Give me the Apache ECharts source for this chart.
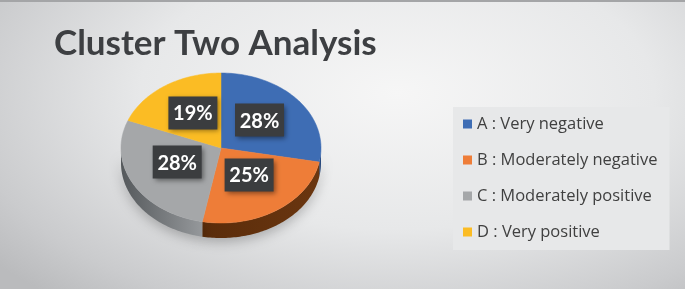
<!DOCTYPE html>
<html>
<head>
<meta charset="utf-8">
<script src="https://cdn.jsdelivr.net/npm/echarts@6/dist/echarts.min.js"></script>
<style>
html,body{margin:0;padding:0;}
#wrap{position:relative;width:685px;height:289px;overflow:hidden;
background:radial-gradient(ellipse 75% 95% at 58% 32%, #f6f6f6 0%, #e7e8e9 50%, #cacbcd 85%, #babbbd 100%);}
#topline{position:absolute;left:0;top:0;width:685px;height:2px;background:#a4a5a7;}
#main{position:absolute;left:0;top:0;width:685px;height:289px;}
</style>
</head>
<body>
<div id="wrap"><div id="topline"></div><div id="main"></div></div>
<script>
// ---- data ----
const titleText = 'Cluster Two Analysis';
const categories = ['A : Very negative', 'B : Moderately negative', 'C : Moderately positive', 'D : Very positive'];
const values = [28, 25, 28, 19];

// ---- styles ----
const topColors = ['#3e6db4', '#ee7d38', '#a5a7a9', '#fbbc24'];
const sideColors = [['#1f3b66', '#2c4f86'], ['#5a2c0a', '#6a3610'], ['#55595c', '#95989b'], ['#8a6500', '#a67c00']];

const total = values.reduce((s, v) => s + v, 0);
const starts = [];
let acc = 0;
values.forEach(v => { starts.push(acc); acc += v; });

function ang(pct) { return pct / total * Math.PI * 2; }
function pt(api, t, r, dy) {
  const p = api.coord([r * Math.sin(t), r * Math.cos(t)]);
  return [p[0], p[1] + (dy || 0)];
}
function arc(api, a, b, dy) {
  const pts = [];
  const n = Math.max(2, Math.ceil((b - a) / 0.02));
  for (let i = 0; i <= n; i++) pts.push(pt(api, a + (b - a) * i / n, 1, dy));
  return pts;
}

function sliceRender(idx) {
  return function (params, api) {
    const a = ang(api.value(0)), b = ang(api.value(1));
    const depth = api.size([0, 0.2])[1];
    const children = [];
    const fa = Math.max(a, Math.PI / 2), fb = Math.min(b, Math.PI * 1.5);
    if (fb > fa) {
      const upper = arc(api, fa, fb, 0);
      const lower = arc(api, fa, fb, depth).reverse();
      children.push({
        type: 'polygon',
        shape: { points: upper.concat(lower) },
        style: {
          fill: new echarts.graphic.LinearGradient(1, 0, 0, 0, [
            { offset: 0, color: sideColors[idx][1] },
            { offset: 1, color: sideColors[idx][0] }
          ]),
          shadowBlur: 12, shadowColor: 'rgba(0,0,0,0.25)', shadowOffsetY: 4
        }
      });
    }
    const c = api.coord([0, 0]);
    children.push({
      type: 'polygon',
      shape: { points: [c].concat(arc(api, a, b, 0)) },
      style: { fill: topColors[idx], stroke: topColors[idx], lineWidth: 0.5 }
    });
    return { type: 'group', children: children };
  };
}

function labelRender(params, api) {
  const mid = ang(api.value(0));
  const p = pt(api, mid, 0.5, -4);
  const w = 49, h = 33;
  return {
    type: 'group',
    children: [
      { type: 'rect', shape: { x: p[0] - w / 2, y: p[1] - h / 2, width: w, height: h },
        style: { fill: '#3b3d3f', shadowBlur: 5, shadowColor: 'rgba(0,0,0,0.45)', shadowOffsetX: 2, shadowOffsetY: 2 } },
      { type: 'text', x: p[0], y: p[1] + 1,
        style: { text: api.value(1) + '%', fill: '#ffffff', font: 'bold 20px Lato', align: 'center', verticalAlign: 'middle' } }
    ]
  };
}

const series = categories.map((name, i) => ({
  type: 'custom', name: name, coordinateSystem: 'cartesian2d',
  itemStyle: { color: topColors[i] },
  renderItem: sliceRender(i), clip: false, silent: true,
  data: [[starts[i], starts[i] + values[i]]]
}));
series.push({
  type: 'custom', name: 'labels', coordinateSystem: 'cartesian2d', z: 5,
  renderItem: labelRender, clip: false, silent: true,
  data: values.map((v, i) => [starts[i] + v / 2, v])
});

const chart = echarts.init(document.getElementById('main'), null, { renderer: 'canvas' });
chart.setOption({
  animation: false,
  backgroundColor: 'transparent',
  title: {
    text: titleText, left: 49, top: 21,
    textStyle: { fontFamily: 'Lato', fontWeight: 'bold', fontSize: 35, color: '#3d3f42' }
  },
  grid: { left: 121, top: 73, width: 200, height: 150 },
  xAxis: { type: 'value', min: -1, max: 1, show: false },
  yAxis: { type: 'value', min: -1, max: 1, show: false },
  legend: {
    orient: 'vertical', left: 453, top: 107,
    data: categories, icon: 'rect', itemWidth: 9, itemHeight: 9, itemGap: 18,
    backgroundColor: '#e7e8e9', padding: [8, 12, 9, 10],
    textStyle: { fontFamily: 'Open Sans', fontSize: 16.5, color: '#404040', lineHeight: 18 },
    selectedMode: false
  },
  series: series
});
</script>
</body>
</html>
